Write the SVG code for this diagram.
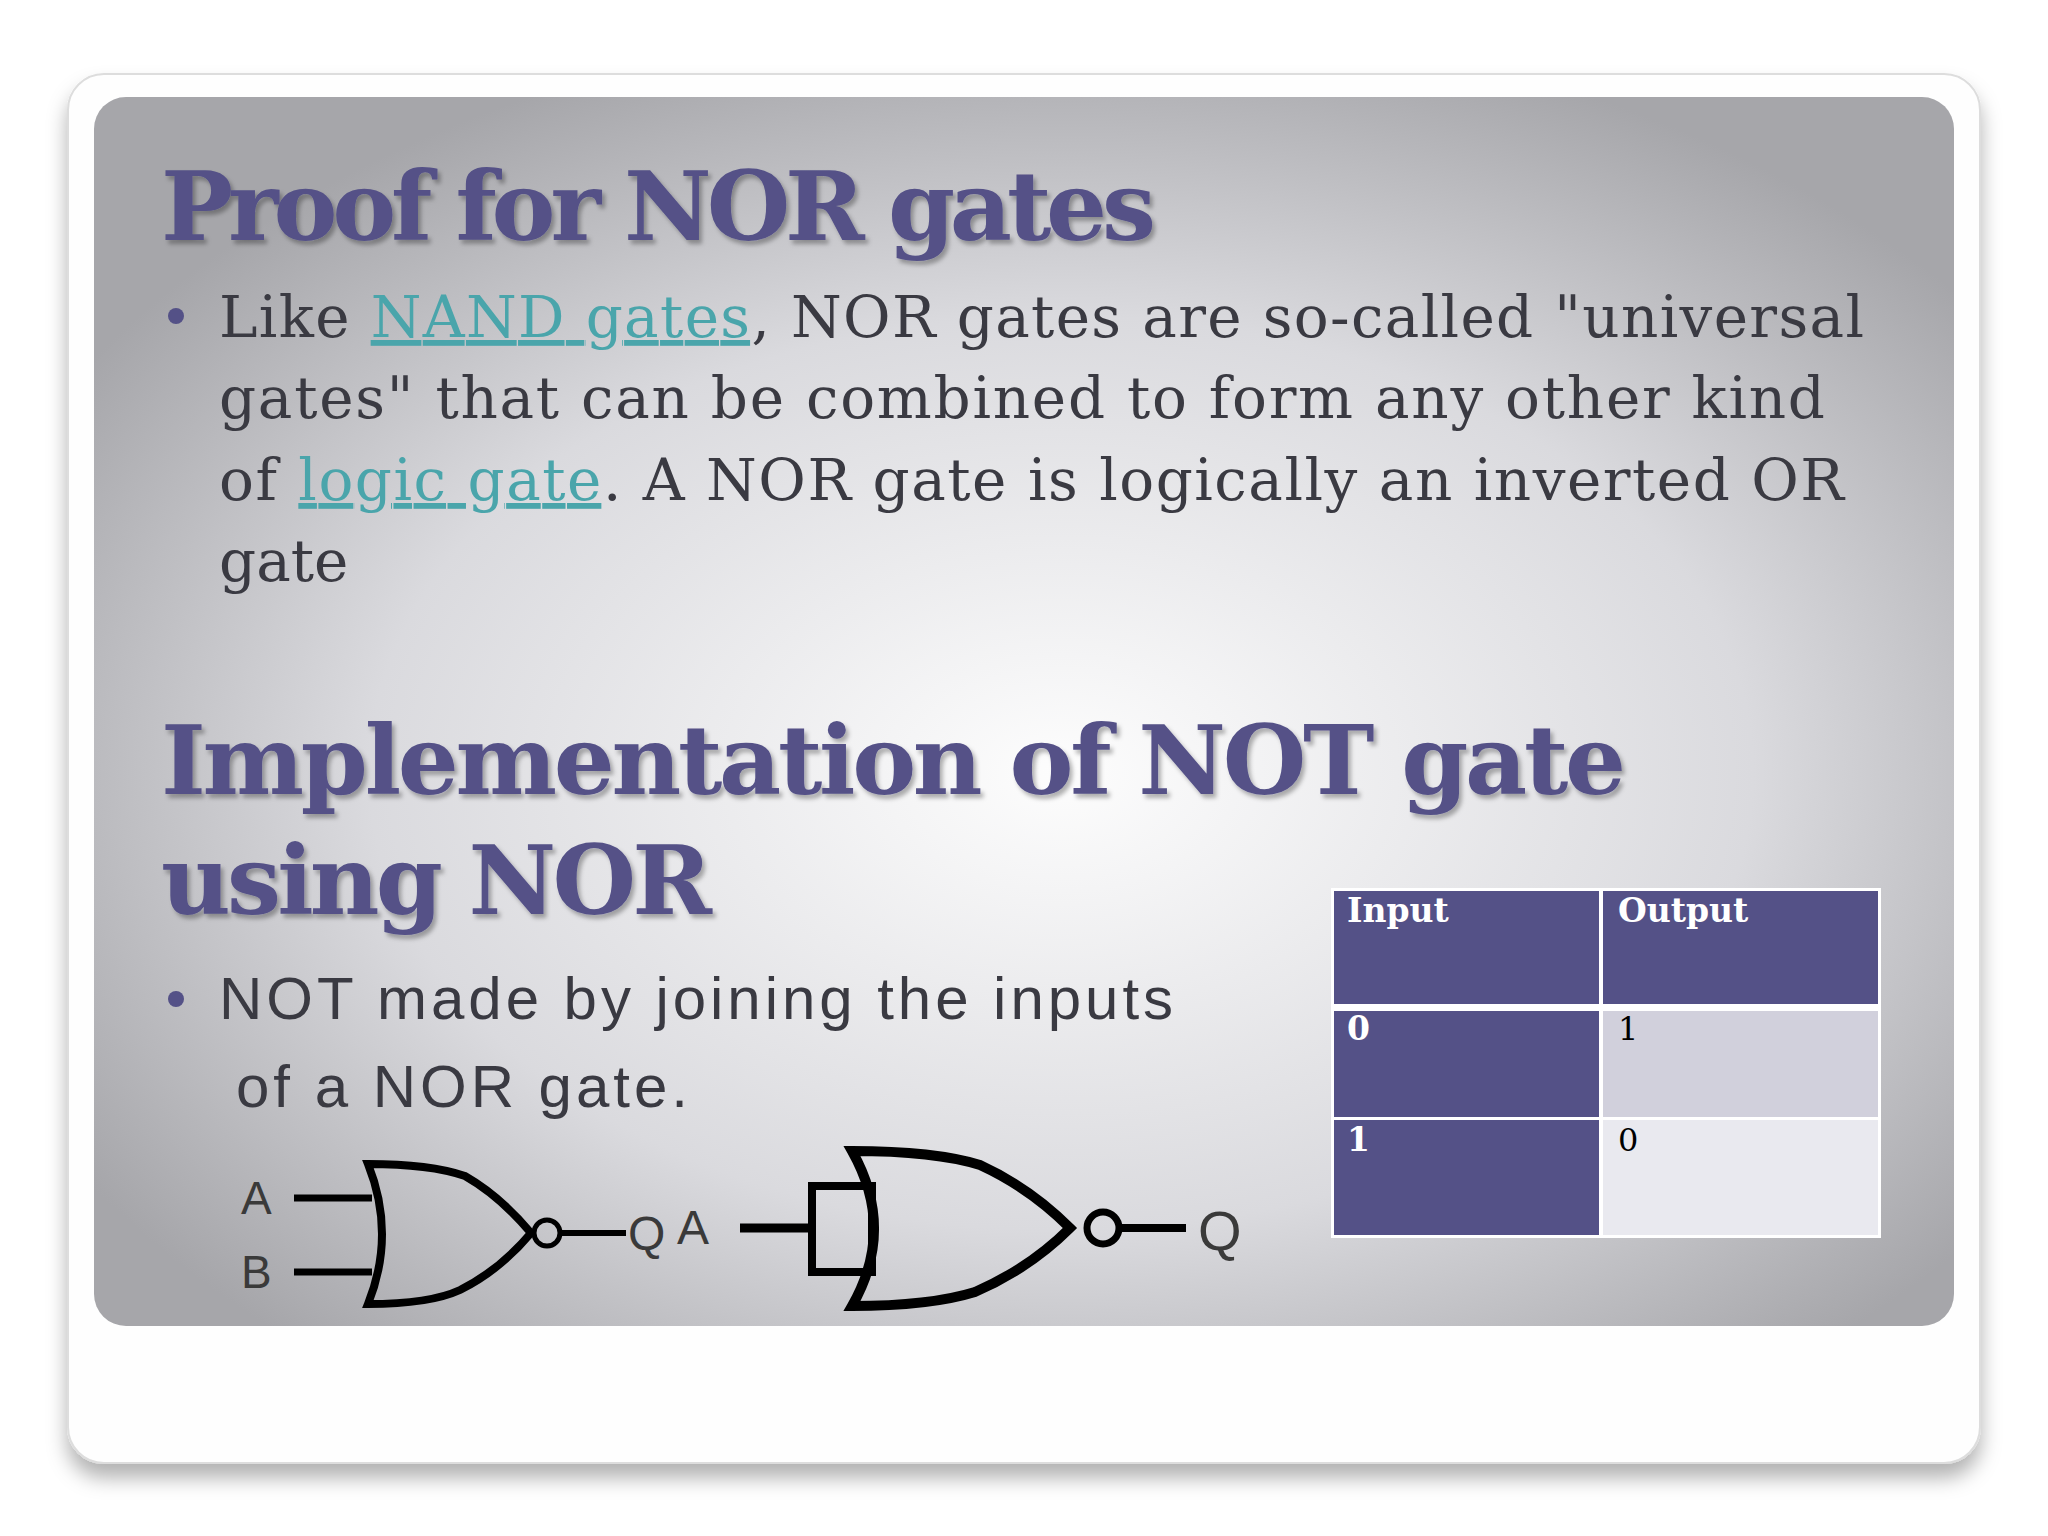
<svg xmlns="http://www.w3.org/2000/svg" width="2048" height="1536" viewBox="0 0 2048 1536">
<style>
.h{font-family:"DejaVu Serif",serif;font-weight:bold;fill:#545187}
.b{font-family:"DejaVu Serif","Liberation Serif",serif;font-size:58px;fill:#3a3a42}
.lk{fill:#4aa5ab;text-decoration:underline}
.s{font-family:"Liberation Sans","DejaVu Sans",sans-serif;font-size:60px;fill:#3a3a42}
.th{font-family:"DejaVu Serif",serif;font-weight:bold;font-size:33px;fill:#fff}
.td{font-family:"DejaVu Serif",serif;font-size:32px;fill:#000}
.g{fill:none;stroke:#000;stroke-linejoin:miter}
.gl{font-family:"Liberation Sans",sans-serif;fill:#3a3a3a}
</style>
<defs>
<radialGradient id="bg" cx="0.52" cy="0.55" r="0.62">
<stop offset="0" stop-color="#fdfdfd"/><stop offset="0.6" stop-color="#dadade"/><stop offset="1" stop-color="#a6a6aa"/>
</radialGradient>
<filter id="sh" x="-5%" y="-5%" width="110%" height="115%"><feDropShadow dx="0" dy="14" stdDeviation="10" flood-color="#000" flood-opacity="0.3"/></filter>
<filter id="ts"><feDropShadow dx="3" dy="4" stdDeviation="2" flood-color="#000" flood-opacity="0.3"/></filter>
</defs>
<rect width="2048" height="1536" fill="#fff"/>
<rect x="68" y="74" width="1912" height="1389" rx="36" fill="#fefefe" stroke="#ddd" stroke-width="2" filter="url(#sh)"/>
<rect x="94" y="97" width="1860" height="1229" rx="32" fill="url(#bg)"/>
<g id="title1"><text class="h" x="161" y="240" font-size="96" textLength="995" filter="url(#ts)">Proof for NOR gates</text></g>
<g id="bullet1">
<circle cx="176" cy="316" r="8" fill="#545187"/>
<text class="b" x="219" y="337" textLength="1645">Like <tspan class="lk">NAND gates</tspan>, NOR gates are so-called "universal</text>
<text class="b" x="219" y="418" textLength="1606">gates" that can be combined to form any other kind</text>
<text class="b" x="219" y="500" textLength="1625">of <tspan class="lk">logic gate</tspan>. A NOR gate is logically an inverted OR</text>
<text class="b" x="219" y="581">gate</text>
</g>
<g id="title2">
<text class="h" x="161" y="794" font-size="96" textLength="1465" filter="url(#ts)">Implementation of  NOT gate</text>
<text class="h" x="161" y="914" font-size="96" textLength="551" filter="url(#ts)">using NOR</text>
</g>
<g id="bullet2">
<circle cx="176" cy="999" r="8" fill="#545187"/>
<text class="s" x="219" y="1019" textLength="954">NOT made by joining the inputs</text>
<text class="s" x="236" y="1107" textLength="452">of a NOR gate.</text>
</g>
<g id="table">
<rect x="1331" y="888" width="550" height="350" fill="#fff"/>
<rect x="1334" y="891" width="265" height="113" fill="#545187"/>
<rect x="1603" y="891" width="275" height="113" fill="#545187"/>
<rect x="1334" y="1011" width="265" height="106" fill="#545187"/>
<rect x="1603" y="1011" width="275" height="106" fill="#d1d0dc"/>
<rect x="1334" y="1120" width="265" height="115" fill="#545187"/>
<rect x="1603" y="1120" width="275" height="115" fill="#e9e9ef"/>
<text class="th" x="1347" y="922">Input</text>
<text class="th" x="1618" y="922">Output</text>
<text class="th" x="1347" y="1040">0</text>
<text class="td" x="1618" y="1040">1</text>
<text class="th" x="1347" y="1151">1</text>
<text class="td" x="1618" y="1151">0</text>
</g>
<g id="gate1">
<text class="gl" x="241" y="1214" font-size="46">A</text>
<text class="gl" x="241" y="1288" font-size="46">B</text>
<path class="g" d="M294 1198H372M294 1272H372" stroke-width="7"/>
<path class="g" d="M368 1164Q396 1234 368 1304Q430 1304 460 1290Q500 1270 531 1233Q500 1196 465 1176Q430 1164 368 1164Z" stroke-width="8"/>
<circle cx="547" cy="1233" r="13" fill="none" stroke="#000" stroke-width="5"/>
<path class="g" d="M560 1233H626" stroke-width="6"/>
<text class="gl" x="628" y="1250" font-size="48">Q</text>
<text class="gl" x="677" y="1244" font-size="48">A</text>
</g>
<g id="gate2">
<path class="g" d="M740 1228H812" stroke-width="9"/>
<rect x="812" y="1186" width="60" height="86" fill="none" stroke="#000" stroke-width="8"/>
<path class="g" d="M852 1151Q896 1229 852 1306Q930 1306 975 1292Q1030 1268 1070 1228Q1030 1188 980 1165Q935 1151 852 1151Z" stroke-width="10"/>
<circle cx="1103" cy="1228" r="16" fill="none" stroke="#000" stroke-width="7"/>
<path class="g" d="M1119 1228H1186" stroke-width="8"/>
<text class="gl" x="1198" y="1250" font-size="56">Q</text>
</g>
</svg>
